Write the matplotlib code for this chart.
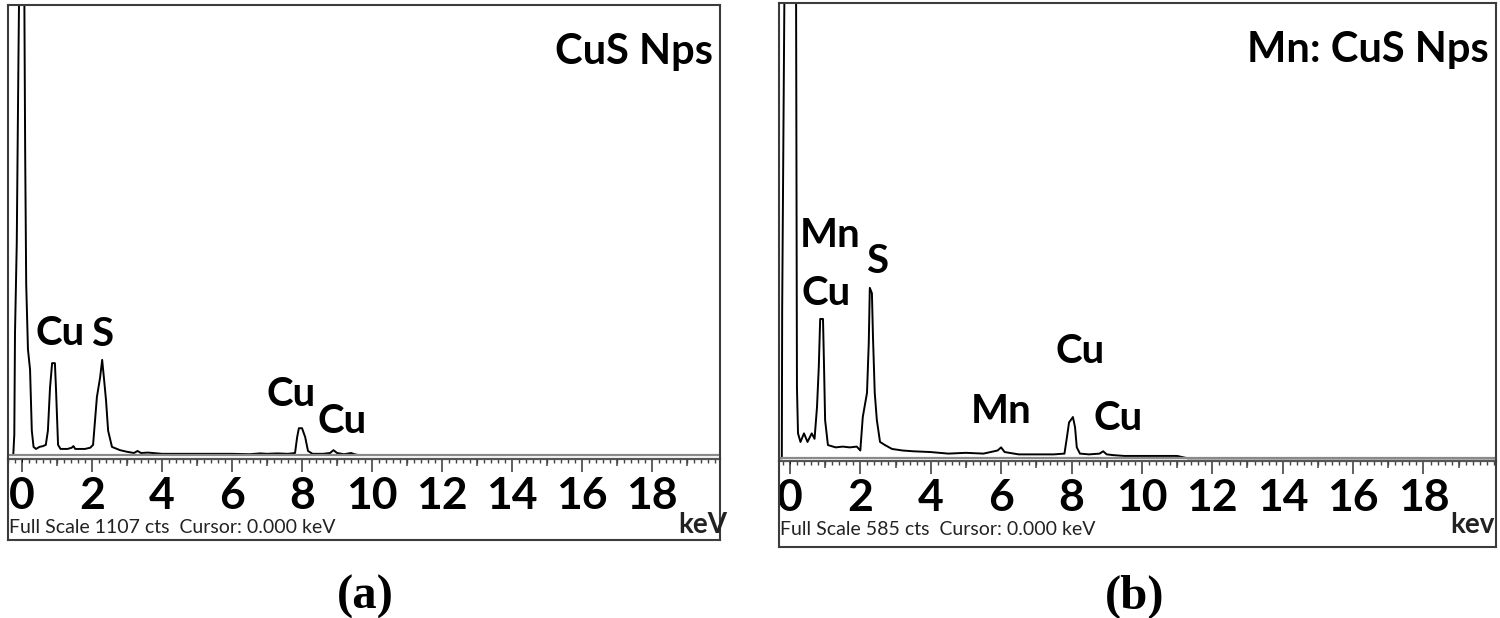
import matplotlib
matplotlib.use("Agg")
import matplotlib.pyplot as plt
from matplotlib import font_manager
from matplotlib.ticker import MultipleLocator

# EDS spectra (energy in keV, counts)
energy_a = [-0.4, -0.25, -0.22, -0.2, -0.15, -0.1, -0.05, 0.05, 0.09, 0.12, 0.17, 0.23,
            0.28, 0.33, 0.4, 0.5, 0.6, 0.68, 0.74, 0.8, 0.86, 0.94, 0.97, 1.03, 1.1, 1.3,
            1.42, 1.47, 1.52, 1.8, 1.95, 2.03, 2.14, 2.23, 2.29, 2.34, 2.4, 2.46, 2.57,
            2.8, 3.0, 3.2, 3.3, 3.4, 3.6, 4.0, 5.0, 6.0, 6.5, 6.8, 7.0, 7.3, 7.6, 7.8,
            7.86, 7.91, 8.0, 8.09, 8.17, 8.3, 8.6, 8.8, 8.9, 9.0, 9.2, 9.4, 9.5, 9.6, 20]
counts_a = [0, 0, 50, 300, 520, 990, 1400, 1400, 750, 420, 260, 210,
            60, 20, 15, 20, 22, 25, 60, 165, 226, 226, 165, 25, 15, 15,
            18, 22, 15, 15, 18, 25, 143, 190, 234, 190, 135, 60, 20,
            12, 8, 5, 10, 5, 6, 3, 3, 3, 2, 4, 3, 4, 3, 5,
            44, 66, 66, 44, 10, 3, 3, 5, 12, 5, 2, 5, 2, 0, 0]

energy_b = [-0.31, -0.23, -0.22, -0.14, 0.17, 0.2, 0.23, 0.3, 0.4, 0.5, 0.62, 0.7, 0.77,
            0.82, 0.86, 0.94, 0.97, 1.0, 1.08, 1.3, 1.5, 1.7, 1.9, 2.0, 2.07, 2.19, 2.24,
            2.27, 2.33, 2.36, 2.41, 2.47, 2.56, 2.7, 2.9, 3.2, 3.5, 4.0, 4.5, 5.0, 5.5,
            5.9, 6.0, 6.1, 6.5, 7.0, 7.5, 7.8, 7.87, 7.93, 8.04, 8.1, 8.15, 8.24, 8.5,
            8.8, 8.9, 9.0, 9.2, 9.5, 10.0, 10.5, 11.0, 11.3, 20]
counts_b = [0, 0, 190, 700, 700, 91, 32, 21, 32, 21, 32, 25, 66,
            117, 179, 179, 117, 49, 17, 14, 15, 14, 15, 10, 53, 84, 148,
            219, 212, 156, 84, 49, 21, 17, 12, 10, 9, 8, 6, 7, 6,
            10, 14, 8, 5, 5, 5, 6, 27, 46, 53, 40, 14, 6, 5,
            6, 9, 5, 4, 3, 3, 3, 3, 0, 0]

full_scale_a = 1107
full_scale_b = 585

tick_values = [0, 2, 4, 6, 8, 10, 12, 14, 16, 18]
odd_ticks = [1, 3, 5, 7, 9, 11, 13, 15, 17, 19]

# peak labels: (text, keV, counts at baseline of text)
labels_a = [("Cu", 1.09, 271), ("S", 2.29, 268), ("Cu", 7.69, 121), ("Cu", 9.14, 54)]
labels_b = [("Mn", 1.14, 271), ("Cu", 1.02, 197), ("S", 2.47, 238),
            ("Mn", 5.99, 45), ("Cu", 8.24, 122), ("Cu", 9.32, 36)]

names = {f.name for f in font_manager.fontManager.ttflist}
sans = "Liberation Sans Narrow" if "Liberation Sans Narrow" in names else "Lato"

W, H = 1500, 618
fig = plt.figure(figsize=(15, 6.18), dpi=100)
fig.patch.set_facecolor("white")

frame_col = "#3c3c3c"


def panel(px_box, energy, counts, xlim, ylim, ruler_frac, labels, title, unit, footer, footer_y, unit_y):
    l, t, r, b = px_box
    ax = fig.add_axes([l / W, 1 - b / H, (r - l) / W, (b - t) / H])
    ax.plot(energy, counts, color="black", lw=1.4)
    ax.axhline(0, color="#8a8a8a", lw=1.6)
    ax.set_xlim(xlim)
    ax.set_ylim(ylim)
    ax.set_xticks([])
    ax.set_yticks([])
    for s in ax.spines.values():
        s.set_color(frame_col)
        s.set_linewidth(1.5)

    sec = ax.secondary_xaxis(ruler_frac)
    sec.spines["bottom"].set_color("#555555")
    sec.spines["bottom"].set_linewidth(1.6)
    sec.set_xticks(tick_values)
    sec.set_xticklabels([str(v) for v in tick_values], fontsize=32,
                        fontfamily=sans, fontweight="bold")
    sec.xaxis.set_minor_locator(MultipleLocator(0.2))
    sec.tick_params(which="major", length=9, width=1.2, color="#444444", pad=3)
    sec.tick_params(which="minor", length=3, width=1.0, color="#444444")

    mid = ax.secondary_xaxis(ruler_frac)
    mid.spines["bottom"].set_visible(False)
    mid.set_xticks(odd_ticks)
    mid.set_xticklabels([])
    mid.tick_params(which="major", length=5, width=1.1, color="#444444")
    mid.xaxis.set_minor_locator(MultipleLocator(100))

    for txt, x, y in labels:
        ax.text(x, y, txt, ha="center", va="baseline", fontsize=29,
                fontfamily=sans, fontweight="bold")
    ax.text(xlim[1] - 0.2, ylim[1] * 0.87, title, ha="right", va="baseline",
            fontsize=30, fontfamily=sans, fontweight="bold")
    ax.text(18.75, unit_y, unit, ha="left", va="baseline", fontsize=20,
            fontfamily=sans, fontweight="bold", color="#222222")
    ax.text(xlim[0] + 0.03, footer_y, footer, ha="left", va="baseline",
            fontsize=14, fontfamily=sans, color="#222222")
    return ax


panel((8, 5, 720, 540), energy_a, counts_a, (-0.4, 19.94), (-209, full_scale_a),
      0.151, labels_a, "CuS Nps", "keV",
      "Full Scale 1107 cts  Cursor: 0.000 keV", -192, -192)
panel((779, 3, 1496, 547), energy_b, counts_b, (-0.31, 20.06), (-114, full_scale_b),
      0.158, labels_b, "Mn: CuS Nps", "kev",
      "Full Scale 585 cts  Cursor: 0.000 keV", -99, -96)

fig.text(365 / W, 1 - 597 / H, "(a)", ha="center", va="center", fontsize=35,
         fontfamily="Liberation Serif", fontweight="bold")
fig.text(1135 / W, 1 - 597 / H, "(b)", ha="center", va="center", fontsize=35,
         fontfamily="Liberation Serif", fontweight="bold")

fig.savefig("out.png", dpi=100, facecolor="white")
